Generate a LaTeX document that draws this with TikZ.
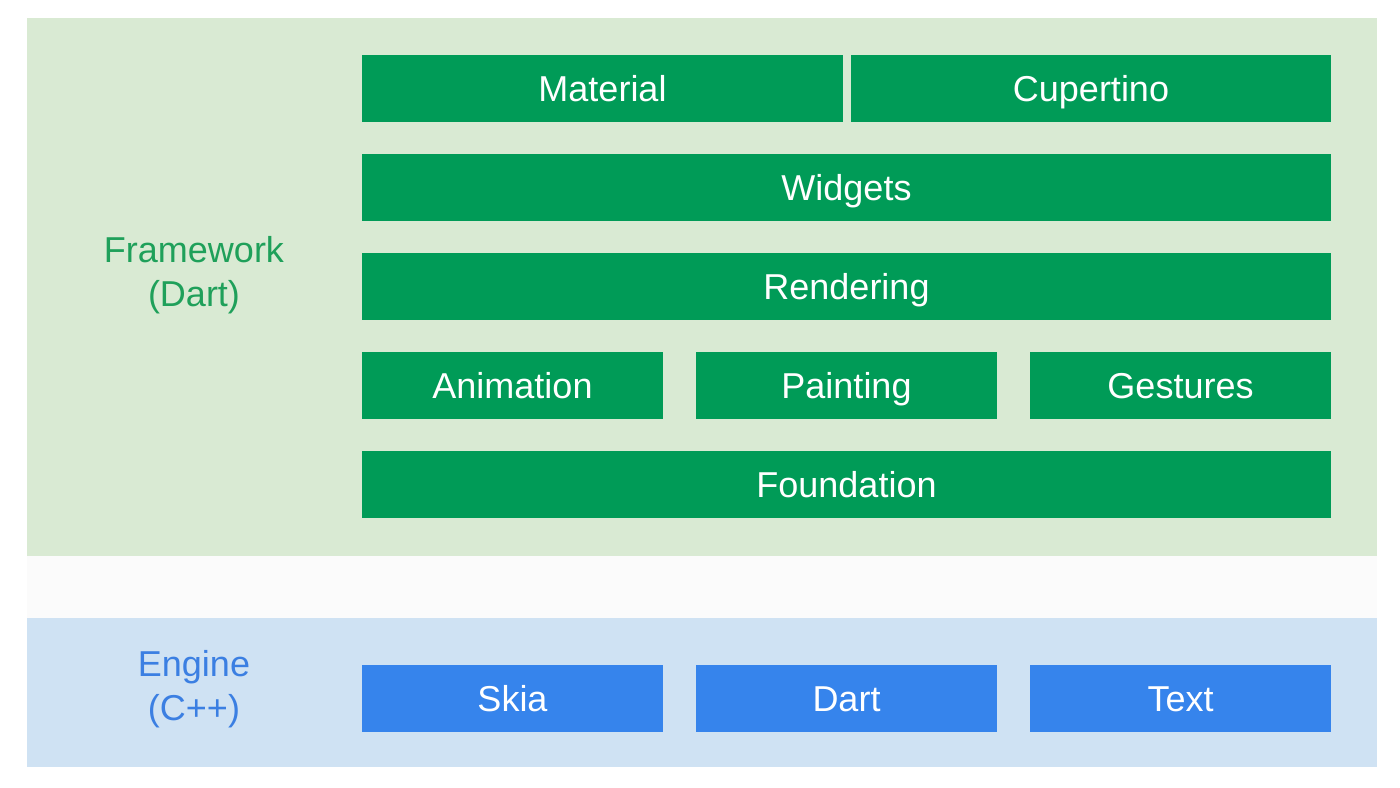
\documentclass[tikz,border=0pt]{standalone}
\usepackage{fontspec}
\setmainfont{Liberation Sans}
\definecolor{fwbg}{HTML}{D9EAD3}
\definecolor{enbg}{HTML}{CFE2F3}
\definecolor{gapbg}{HTML}{FBFBFB}
\definecolor{fwbox}{HTML}{009B57}
\definecolor{enbox}{HTML}{3684EC}
\definecolor{fwtext}{HTML}{1FA05A}
\definecolor{entext}{HTML}{3B7FE2}
\tikzset{
  layerbox/.style={draw=none, inner sep=0pt, text=white, font=\fontsize{36}{42}\selectfont,
    minimum height=67pt, text height=29pt, text depth=3pt},
  fwlayer/.style={layerbox, fill=fwbox},
  enlayer/.style={layerbox, fill=enbox},
  sidelabel/.style={align=center, font=\fontsize{36}{44}\selectfont, inner sep=0pt}
}
\begin{document}
\begin{tikzpicture}[x=1pt,y=-1pt]
\useasboundingbox (0,0) rectangle (1400,787);
\fill[white] (0,0) rectangle (1400,787);
\fill[fwbg] (27,18) rectangle (1377,556);
\fill[gapbg] (27,556) rectangle (1377,618);
\fill[enbg] (27,618) rectangle (1377,767);

\node[fwlayer, minimum width=481pt] (material) at (602.5,88) {Material};
\node[fwlayer, minimum width=480pt] (cupertino) at (1091,88) {Cupertino};
\node[fwlayer, minimum width=969pt] (widgets) at (846.5,187) {Widgets};
\node[fwlayer, minimum width=969pt] (rendering) at (846.5,286.5) {Rendering};
\node[fwlayer, minimum width=301pt] (animation) at (512.5,385.5) {Animation};
\node[fwlayer, minimum width=301pt] (painting) at (846.5,385.5) {Painting};
\node[fwlayer, minimum width=301pt] (gestures) at (1180.5,385.5) {Gestures};
\node[fwlayer, minimum width=969pt] (foundation) at (846.5,484.5) {Foundation};

\node[enlayer, minimum width=301pt] (skia) at (512.5,698.5) {Skia};
\node[enlayer, minimum width=301pt] (dart) at (846.5,698.5) {Dart};
\node[enlayer, minimum width=301pt] (text) at (1180.5,698.5) {Text};

\node[sidelabel, text=fwtext] (framework) at (194,275) {Framework\\(Dart)};
\node[sidelabel, text=entext] (engine) at (194,689) {Engine\\(C++)};
\end{tikzpicture}
\end{document}
